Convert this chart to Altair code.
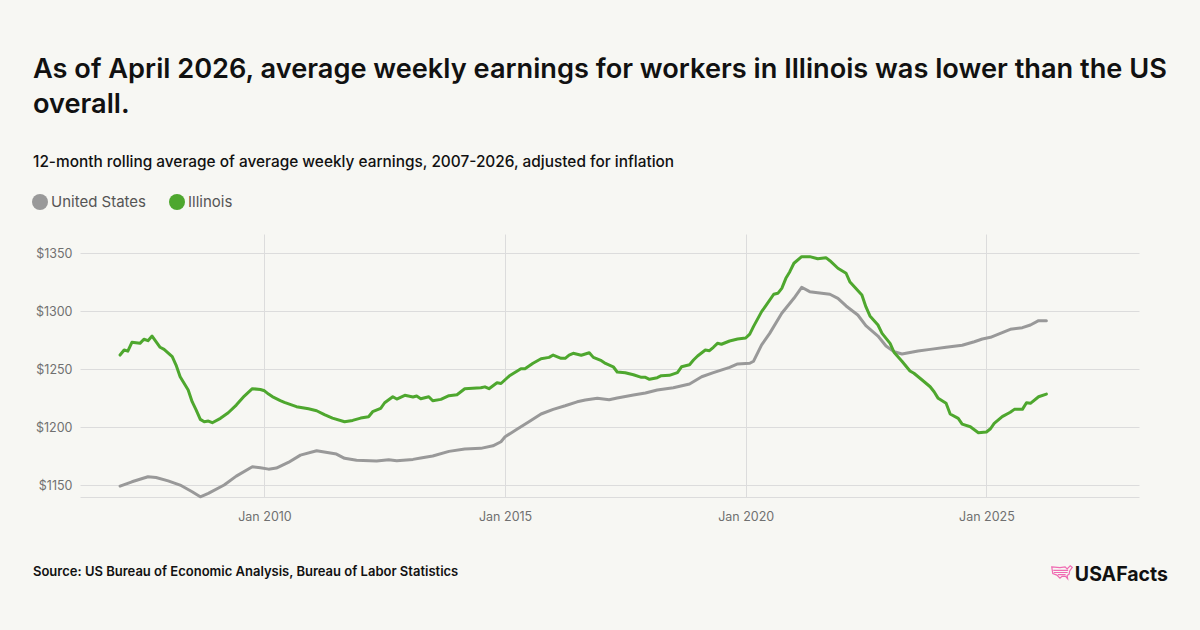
import altair as alt
import pandas as pd

# months since Jan 2007 and values
us_months = [0, 3, 7, 9, 12, 15, 18, 20, 22, 26, 29, 33, 35, 37, 39, 42, 45, 49, 54, 56, 59, 64, 67, 69,
             73, 75, 78, 82, 86, 90, 93, 95, 96, 99, 102, 105, 108, 111, 114, 116, 119, 122, 124, 128,
             131, 134, 138, 142, 145, 148, 152, 154, 157, 158, 160, 162, 165, 168, 170, 172, 174, 177,
             179, 181, 184, 186, 189, 191, 193, 195, 199, 202, 206, 210, 213, 215, 217, 220, 222, 225,
             227, 229, 231]
us_values = [1149.4, 1153.1, 1157.4, 1156.8, 1153.9, 1150.3, 1144.5, 1140.2, 1143.1, 1150.3, 1158.0,
             1166.0, 1165.2, 1164.0, 1164.9, 1169.8, 1176.1, 1179.8, 1177.0, 1173.3, 1171.6, 1171.0,
             1172.1, 1171.3, 1172.4, 1173.6, 1175.3, 1179.3, 1181.3, 1181.9, 1184.1, 1187.6, 1191.9,
             1198.4, 1204.8, 1211.5, 1215.5, 1218.6, 1222.0, 1223.5, 1225.0, 1223.8, 1225.3, 1227.8,
             1229.6, 1232.2, 1234.1, 1237.3, 1243.6, 1247.1, 1251.7, 1254.6, 1255.2, 1257.0, 1271.0,
             1281.0, 1298.3, 1311.2, 1320.7, 1316.9, 1316.0, 1314.7, 1311.2, 1304.6, 1296.8, 1287.6,
             1278.7, 1270.1, 1265.2, 1263.2, 1265.8, 1267.2, 1269.0, 1270.7, 1273.8, 1276.1, 1277.6,
             1281.6, 1284.5, 1285.9, 1288.2, 1291.9, 1291.9]

il_months = [0, 1, 2, 3, 5, 6, 7, 8, 10, 11, 13, 14, 15, 17, 18, 19, 20, 21, 22, 23, 25, 27, 29, 31, 33,
             35, 36, 37, 38, 40, 41, 44, 47, 49, 51, 53, 56, 58, 60, 62, 63, 65, 66, 68, 69, 71, 73, 74,
             75, 77, 78, 80, 82, 84, 86, 90, 91, 92, 94, 95, 97, 100, 101, 103, 105, 107, 108, 110, 111,
             112, 113, 115, 117, 118, 120, 121, 123, 124, 126, 128, 130, 131, 132, 134, 135, 137, 139,
             140, 142, 143, 144, 146, 147, 148, 149, 150, 152, 154, 156, 157, 158, 160, 161, 163, 164,
             165, 166, 167, 168, 170, 172, 174, 176, 177, 179, 181, 182, 185, 186, 187, 189, 190, 192,
             193, 195, 197, 198, 200, 202, 203, 204, 206, 207, 209, 210, 212, 214, 216, 217, 218, 220,
             222, 223, 225, 226, 227, 229, 231]
il_values = [1262.3, 1266.6, 1265.7, 1273.3, 1272.4, 1275.9, 1274.7, 1278.7, 1269.0, 1267.2, 1260.9,
             1253.7, 1243.6, 1232.2, 1222.1, 1214.9, 1206.9, 1204.8, 1205.4, 1204.0, 1207.8, 1212.6,
             1219.2, 1227.0, 1233.3, 1232.6, 1231.5, 1228.7, 1226.5, 1223.0, 1221.5, 1217.8, 1216.0,
             1214.3, 1210.9, 1208.0, 1204.8, 1206.0, 1208.0, 1209.2, 1213.5, 1216.4, 1221.2, 1226.4,
             1224.4, 1227.6, 1226.2, 1227.0, 1224.7, 1226.4, 1222.9, 1224.1, 1227.3, 1228.1, 1233.3,
             1234.1, 1234.9, 1233.3, 1238.4, 1237.8, 1244.2, 1250.5, 1250.5, 1255.2, 1259.1, 1260.3,
             1262.3, 1259.5, 1259.5, 1262.3, 1263.8, 1262.1, 1264.3, 1260.3, 1257.4, 1255.1, 1252.2,
             1247.7, 1247.1, 1245.3, 1243.1, 1243.1, 1241.4, 1242.8, 1244.5, 1244.8, 1247.1, 1252.2,
             1254.0, 1258.0, 1261.5, 1266.6, 1266.1, 1269.0, 1272.4, 1271.6, 1274.4, 1276.1, 1277.0,
             1280.4, 1287.0, 1299.7, 1304.6, 1314.7, 1315.5, 1319.8, 1328.4, 1334.1, 1341.4, 1347.1,
             1347.1, 1345.3, 1346.2, 1343.6, 1337.1, 1332.8, 1325.5, 1314.0, 1304.0, 1296.0, 1288.2,
             1281.0, 1272.4, 1264.5, 1257.0, 1248.6, 1246.6, 1240.8, 1235.0, 1230.7, 1225.0, 1220.7,
             1211.5, 1207.8, 1202.8, 1200.5, 1195.4, 1196.0, 1198.8, 1203.4, 1209.2, 1213.0, 1215.5,
             1215.5, 1221.2, 1220.7, 1226.4, 1228.7]

series_names = ["United States", "Illinois"]
series_colors = ["#999999", "#4ea72e"]
y_ticks = [1150, 1200, 1250, 1300, 1350]
x_tick_years = [2010, 2015, 2020, 2025]

TITLE = ["As of April 2026, average weekly earnings for workers in Illinois was lower than the US",
         "overall."]
SUBTITLE = "12-month rolling average of average weekly earnings, 2007-2026, adjusted for inflation"
SOURCE = "Source: US Bureau of Economic Analysis, Bureau of Labor Statistics"
LOGO = "USAFacts"


def to_date(m):
    return f"{2007 + m // 12}-{m % 12 + 1:02d}-01T00:00:00"


df = pd.concat([
    pd.DataFrame({"date": [to_date(m) for m in us_months], "value": us_values, "series": series_names[0]}),
    pd.DataFrame({"date": [to_date(m) for m in il_months], "value": il_values, "series": series_names[1]}),
], ignore_index=True)

FONT = "Inter"
W, H = 1059, 263

color_scale = alt.Scale(domain=series_names, range=series_colors)
legend_def = alt.Legend(title=None, orient="none", direction="horizontal",
                        legendX=-48, legendY=-40, symbolType="circle",
                        symbolSize=256, symbolOpacity=1, symbolStrokeWidth=0,
                        labelFont=FONT, labelFontSize=15, labelColor="#555555",
                        labelOffset=3, columnPadding=22, padding=0)

x_enc = alt.X("date:T",
              scale=alt.Scale(domain=[alt.DateTime(year=2006, month=3, date=3),
                                      alt.DateTime(year=2028, month=3, date=4)]),
              axis=alt.Axis(title=None, values=[alt.DateTime(year=y, month=1, date=1) for y in x_tick_years],
                            format="%b %Y", labelFont=FONT, labelFontSize=12.5, labelColor="#707070",
                            labelPadding=13, ticks=False, domain=True, domainColor="#dcdcdc",
                            domainWidth=1, grid=True, gridColor="#dcdcdc", gridWidth=1,
                            labelFlush=False))
y_enc = alt.Y("value:Q",
              scale=alt.Scale(domain=[1140, 1366.6], nice=False, zero=False),
              axis=alt.Axis(title=None, values=y_ticks, format="$d", labelFont=FONT, labelFontSize=12.5,
                            labelColor="#707070", labelPadding=8, ticks=False, domain=False,
                            grid=True, gridColor="#dcdcdc", gridWidth=1))

# filled circles carry the legend (no visible marks: filtered to empty)
legend_layer = alt.Chart(df).transform_filter("datum.value < 0").mark_circle(opacity=1).encode(
    x=x_enc, y=y_enc,
    color=alt.Color("series:N", scale=color_scale, sort=series_names, legend=legend_def),
)

lines = alt.Chart(df).mark_line(strokeWidth=3, strokeCap="round", strokeJoin="round").encode(
    x=x_enc, y=y_enc,
    color=alt.Color("series:N", scale=color_scale, sort=series_names, legend=legend_def),
    order=alt.Order("series:N"),
)

def txt(text, x, y, size, weight, color="#111111", align="left", font=FONT):
    return alt.Chart(pd.DataFrame({"t": [text]})).mark_text(
        align=align, baseline="alphabetic", font=font, fontSize=size, fontWeight=weight, color=color
    ).encode(text="t:N", x=alt.value(x), y=alt.value(y))

title1 = txt(TITLE[0], -47, -156, 27.2, 600)
title2 = txt(TITLE[1], -47, -121, 27.2, 600)
subtitle = txt(SUBTITLE, -47, -67, 15.4, 500)
source = txt(SOURCE, -47, 342, 13, 600)
logo = txt(LOGO, 1088, 347, 19.5, 700, color="#111111", align="right")

icon_path = ("M -1 -0.5 L -0.2 -0.42 L 0.3 -0.5 L 0.5 -0.3 L 0.8 -0.6 L 1 -0.45 L 0.75 -0.1 L 0.7 0.2 "
             "L 0.5 0.35 L 0.55 0.65 L 0.35 0.42 L 0 0.42 L -0.2 0.6 L -0.5 0.3 L -0.9 0.15 Z "
             "M -0.85 -0.15 L 0.6 -0.15 M -0.8 0.05 L 0.55 0.05 M -0.4 0.25 L 0.35 0.25")
icon = alt.Chart(pd.DataFrame({"k": [1]})).mark_point(
    shape=icon_path, filled=False, stroke="#f06bb2", strokeWidth=1.2, size=420, opacity=1
).encode(x=alt.value(982), y=alt.value(338))

chart = alt.layer(legend_layer, lines, title1, title2, subtitle, source, logo, icon).properties(
    width=W, height=H,
    autosize=alt.AutoSizeParams(type="none"),
    padding={"left": 80, "top": 234, "right": 61, "bottom": 133},
    background="#f7f7f3",
).configure_view(stroke=None).configure_axis(labelFont=FONT)

chart.save("out.html", embed_options={"renderer": "svg", "actions": False})
